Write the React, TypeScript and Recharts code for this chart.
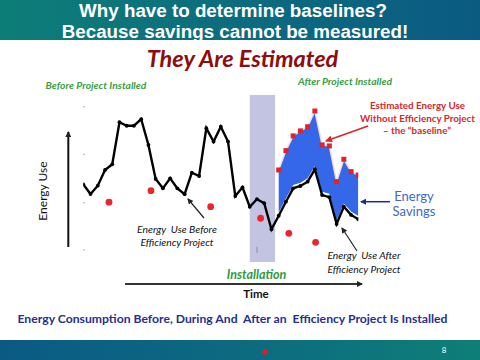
import { Area, ComposedChart, Line, ReferenceArea, Scatter, XAxis, YAxis } from 'recharts';
import type { CSSProperties, ReactNode } from 'react';

// energy use per period (0..100 scale)
const energyUse = [
  46.5, 40.7, 45.7, 55.1, 58.5, 83.7, 81.6, 81.6, 85.5, 70.1, 49.7, 44.1, 50.1, 44.1, 40.6, 53.5, 51.5, 80.1, 72.1, 81.0,
  72.1, 39.5, 44.7, 33.1, 37.6, 35.2, 19.6, 27.7, 36.1, 44.1, 45.5, 48.1, 55.5, 40.1, 38.8, 22.8, 33.1, 28.2, 25.6,
];
const baselineStart = 27;
const baselineUse = [55.1, 66.7, 75.5, 78.5, 81.0, 90.4, 70.1, 69.5, 48.1, 61.5, 54.1, 52.1];
const savingsGap = 2;

const dotX = [3.55, 9.35, 17.6, 24.5, 28.4, 32.1];
const dotY = [35.8, 42.7, 33.1, 26.2, 17.2, 11.8];
const markY = [93, 64.5, 35.5, 7.2];
const installFrom = 23;
const installTo = 26.5;

const rows = energyUse.map((v, i) => {
  const b = i >= baselineStart ? baselineUse[i - baselineStart] : null;
  return { i, actual: v, baseline: b, savings: b == null ? null : [v + savingsGap, b] };
});
const dots = dotX.map((x, k) => ({ i: x, v: dotY[k] }));
const marks = markY.map((y) => ({ i: 0, v: y }));
const bandMark = [{ i: 24, v: 7.2 }];

const lato = 'Lato, "Noto Sans", sans-serif';

// centred text box: x is the centre, y the vertical middle
function Txt({ x, y, w = 300, style, children }: { x: number; y: number; w?: number; style?: CSSProperties; children: ReactNode }) {
  return (
    <div
      style={{
        position: 'absolute',
        left: x - w / 2,
        width: w,
        top: y,
        transform: 'translateY(-50%)',
        whiteSpace: 'nowrap',
        textAlign: 'center',
        fontFamily: lato,
        ...style,
      }}
    >
      {children}
    </div>
  );
}

const redNote: CSSProperties = { fontWeight: 700, fontSize: 9.8, color: '#d42a2a' };

export default function App() {
  return (
    <div style={{ position: 'fixed', left: 0, top: 0, width: 480, height: 360, background: '#fff', overflow: 'hidden' }}>
      <div
        style={{
          position: 'absolute',
          left: 0,
          top: 0,
          width: 480,
          height: 40,
          background: 'linear-gradient(90deg, #0d7e77 0%, #0c6c7e 50%, #0b5a82 100%)',
        }}
      />
      <div
        style={{
          position: 'absolute',
          left: 0,
          top: 340,
          width: 480,
          height: 20,
          background: 'linear-gradient(90deg, #0b5a85 0%, #0c6a80 50%, #0e7f77 100%)',
        }}
      />
      <Txt x={233} y={11} w={400} style={{ fontFamily: '"Liberation Sans", Arial, sans-serif', fontWeight: 700, fontSize: 18.8, color: '#fff' }}>
        Why have to determine baselines?
      </Txt>
      <Txt x={235} y={32} w={400} style={{ fontFamily: '"Liberation Sans", Arial, sans-serif', fontWeight: 700, fontSize: 18.8, color: '#fff' }}>
        Because savings cannot be measured!
      </Txt>
      <Txt x={242.5} y={58} style={{ fontWeight: 700, fontStyle: 'italic', fontSize: 23.5, color: '#8e0c0c' }}>
        They Are Estimated
      </Txt>

      <ComposedChart
        width={480}
        height={360}
        data={rows}
        margin={{ top: 95, right: 121.7, bottom: 98, left: 83.3 }}
        style={{ position: 'absolute', left: 0, top: 0 }}
      >
        <XAxis type="number" dataKey="i" domain={[0, 38]} hide allowDataOverflow />
        <YAxis type="number" domain={[0, 100]} hide allowDataOverflow />
        <ReferenceArea x1={installFrom} x2={installTo} y1={0} y2={100} fill="#c3c3e2" fillOpacity={1} stroke="none" />
        <Area
          type="linear"
          dataKey="savings"
          fill="#3468e8"
          fillOpacity={1}
          stroke="none"
          isAnimationActive={false}
        />
        <Line
          type="linear"
          dataKey="baseline"
          stroke="#f3dde2"
          strokeWidth={1.5}
          isAnimationActive={false}
          dot={(p: any) =>
            p.cy == null ? (
              <g key={p.key ?? p.index} />
            ) : (
              <rect key={p.key ?? p.index} x={p.cx - 2.5} y={p.cy - 2.5} width={5} height={5} fill="#e0222a" />
            )
          }
        />
        <Line
          type="linear"
          dataKey="actual"
          stroke="#000"
          strokeWidth={2.4}
          isAnimationActive={false}
          dot={(p: any) => <circle key={p.key ?? p.index} cx={p.cx} cy={p.cy} r={1.9} fill="#000" />}
        />
        <Scatter
          data={dots}
          dataKey="v"
          isAnimationActive={false}
          shape={(p: any) => <circle cx={p.cx} cy={p.cy} r={3.4} fill="#e8262c" />}
        />
        <Scatter
          data={marks}
          dataKey="v"
          isAnimationActive={false}
          shape={(p: any) => <rect x={p.cx - 1.5} y={p.cy - 0.6} width={3} height={1.2} fill="#a8a8a8" />}
        />
        <Scatter
          data={bandMark}
          dataKey="v"
          isAnimationActive={false}
          shape={(p: any) => <rect x={p.cx - 0.5} y={p.cy - 3} width={1} height={6} fill="#8c8ca8" />}
        />
      </ComposedChart>

      <svg width={480} height={360} style={{ position: 'absolute', left: 0, top: 0, pointerEvents: 'none' }}>
        <defs>
          <marker id="ahBlack" markerWidth="6" markerHeight="6" refX="5" refY="3" orient="auto" markerUnits="userSpaceOnUse">
            <path d="M0,0 L6,3 L0,6 Z" fill="#222" />
          </marker>
          <marker id="ahRed" markerWidth="7" markerHeight="7" refX="6" refY="3.5" orient="auto" markerUnits="userSpaceOnUse">
            <path d="M0,0 L7,3.5 L0,7 Z" fill="#d42a2a" />
          </marker>
          <marker id="ahNavy" markerWidth="6" markerHeight="6" refX="5" refY="3" orient="auto" markerUnits="userSpaceOnUse">
            <path d="M0,0 L6,3 L0,6 Z" fill="#1c2a8a" />
          </marker>
        </defs>
        <line x1={68.3} y1={247} x2={68.3} y2={132} stroke="#111" strokeWidth={2} markerEnd="url(#ahBlack)" />
        <line x1={125} y1={284} x2={362} y2={284} stroke="#333" strokeWidth={2} markerEnd="url(#ahBlack)" />
        <line x1={204} y1={218} x2={188} y2={199} stroke="#222" strokeWidth={1.2} markerEnd="url(#ahBlack)" />
        <line x1={357} y1={251} x2={342} y2={228} stroke="#222" strokeWidth={1.2} markerEnd="url(#ahBlack)" />
        <line x1={368} y1={126} x2={326} y2={141} stroke="#d42a2a" strokeWidth={1.8} markerEnd="url(#ahRed)" />
        <line x1={390} y1={201.7} x2={361} y2={201.7} stroke="#1c2a8a" strokeWidth={1.5} markerEnd="url(#ahNavy)" />
        <path d="M265,348.5 L268.5,352 L265,355.5 L261.5,352 Z" fill="#d8202a" />
      </svg>

      <Txt x={96} y={85} w={140} style={{ fontWeight: 700, fontStyle: 'italic', fontSize: 10.3, color: '#3a9f45' }}>
        Before Project Installed
      </Txt>
      <Txt x={345} y={80.5} w={140} style={{ fontWeight: 700, fontStyle: 'italic', fontSize: 10.3, color: '#3a9f45' }}>
        After Project Installed
      </Txt>
      <div
        style={{
          position: 'absolute',
          left: 42,
          top: 191,
          transform: 'translate(-50%, -50%) rotate(-90deg)',
          whiteSpace: 'nowrap',
          fontFamily: lato,
          fontSize: 12,
          color: '#111',
        }}
      >
        Energy Use
      </div>
      <Txt x={177} y={236} w={120} style={{ fontStyle: 'italic', fontSize: 10.3, lineHeight: '13px', color: '#111' }}>
        Energy&nbsp; Use Before
        <br />
        Efficiency Project
      </Txt>
      <Txt x={364} y={262} w={120} style={{ fontStyle: 'italic', fontSize: 10.3, lineHeight: '14px', color: '#111' }}>
        Energy&nbsp; Use After
        <br />
        Efficiency Project
      </Txt>
      <Txt x={417.5} y={105} w={160} style={redNote}>
        Estimated Energy Use
      </Txt>
      <Txt x={417.5} y={117.5} w={160} style={redNote}>
        Without Efficiency Project
      </Txt>
      <Txt x={417} y={130} w={160} style={redNote}>
        – the “baseline”
      </Txt>
      <Txt x={414} y={203.5} w={80} style={{ fontSize: 13, lineHeight: '15.5px', color: '#4168c8' }}>
        Energy
        <br />
        Savings
      </Txt>
      <Txt x={256.5} y={274} w={120} style={{ fontWeight: 700, fontStyle: 'italic', fontSize: 12.5, color: '#2e9a3e' }}>
        Installation
      </Txt>
      <Txt x={256} y={293} w={80} style={{ fontWeight: 700, fontSize: 11.5, color: '#111' }}>
        Time
      </Txt>
      <Txt x={232.5} y={317.5} w={470} style={{ fontWeight: 700, fontSize: 12.2, color: '#26308c' }}>
        Energy Consumption Before, During And&nbsp; After an&nbsp; Efficiency Project Is Installed
      </Txt>
      <Txt x={444} y={349.5} w={20} style={{ fontSize: 8, color: '#fff' }}>
        8
      </Txt>
    </div>
  );
}
